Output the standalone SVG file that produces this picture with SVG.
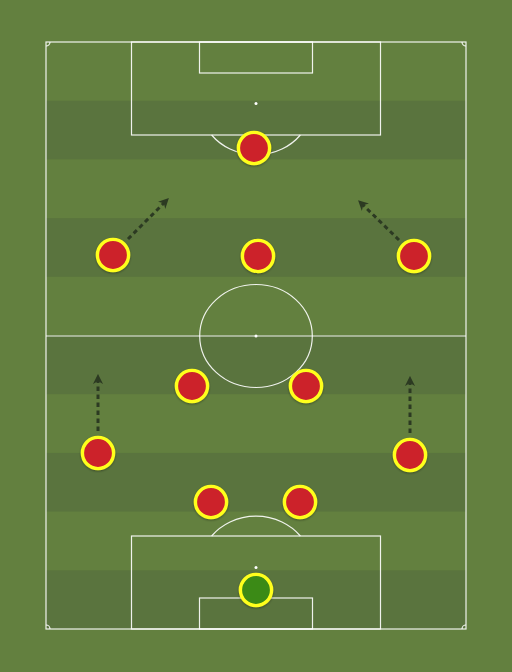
<svg xmlns="http://www.w3.org/2000/svg" width="512" height="672" viewBox="0 0 512 672">
<style>
.line{fill:none;stroke:#ffffff;stroke-width:1.2;stroke-opacity:0.9}
.band{fill:#5a743e}
.player{fill:#cc232b;stroke:#ffff1e;stroke-width:3.4;filter:url(#sh)}
.gk{fill:#3b8a17;stroke:#ffff1e;stroke-width:3.4;filter:url(#sh)}
.run{fill:none;stroke:#2c3a22;stroke-width:3;stroke-dasharray:4.5 3.5;marker-end:url(#ah)}
</style>
<defs>
<filter id="sh" x="-50%" y="-50%" width="200%" height="200%">
<feDropShadow dx="0" dy="1" stdDeviation="1.2" flood-color="#000" flood-opacity="0.35"/>
</filter>
<marker id="ah" viewBox="0 0 10 10" refX="6" refY="5" markerWidth="3.4" markerHeight="3.4" orient="auto" markerUnits="strokeWidth">
<path d="M0,0 L10,5 L0,10 L3,5 Z" fill="#2c3a22"/>
</marker>
</defs>
<rect width="512" height="672" fill="#63803f"/>
<g id="pitch">
<rect class="band" x="46" y="100.7" width="420" height="58.7"/>
<rect class="band" x="46" y="218.1" width="420" height="58.7"/>
<rect class="band" x="46" y="335.5" width="420" height="58.7"/>
<rect class="band" x="46" y="452.9" width="420" height="58.7"/>
<rect class="band" x="46" y="570.3" width="420" height="58.7"/>
<rect class="line" x="46" y="42" width="420" height="587"/>
<line class="line" x1="46" y1="336" x2="466" y2="336"/>
<ellipse class="line" cx="256" cy="336" rx="56.3" ry="51.5"/>
<circle cx="256" cy="336" r="1.5" fill="#fff"/>
<rect class="line" x="131.5" y="42" width="249" height="93"/>
<rect class="line" x="199.5" y="42" width="113" height="31"/>
<circle cx="256" cy="103.5" r="1.5" fill="#fff"/>
<path class="line" d="M211.6,135 A56.3,51.5 0 0 0 300.4,135"/>
<rect class="line" x="131.5" y="536" width="249" height="93"/>
<rect class="line" x="199.5" y="598" width="113" height="31"/>
<circle cx="256" cy="567.5" r="1.5" fill="#fff"/>
<path class="line" d="M211.6,536 A56.3,51.5 0 0 1 300.4,536"/>
<path class="line" d="M46,46 A4,4 0 0 0 50,42"/>
<path class="line" d="M462,42 A4,4 0 0 0 466,46"/>
<path class="line" d="M46,625 A4,4 0 0 1 50,629"/>
<path class="line" d="M462,629 A4,4 0 0 1 466,625"/>
</g>
<g id="connectors">
<line class="run" x1="128" y1="239" x2="166" y2="201"/>
<line class="run" x1="399" y1="240" x2="361" y2="203"/>
<line class="run" x1="98" y1="431" x2="98" y2="378"/>
<line class="run" x1="410" y1="433" x2="410" y2="380"/>
</g>
<g id="p1"><circle class="player" cx="254" cy="148" r="15.6"/></g>
<g id="p2"><circle class="player" cx="113" cy="255" r="15.6"/></g>
<g id="p3"><circle class="player" cx="258" cy="256" r="15.6"/></g>
<g id="p4"><circle class="player" cx="414" cy="256" r="15.6"/></g>
<g id="p5"><circle class="player" cx="192" cy="386" r="15.6"/></g>
<g id="p6"><circle class="player" cx="306" cy="386" r="15.6"/></g>
<g id="p7"><circle class="player" cx="98" cy="453" r="15.6"/></g>
<g id="p8"><circle class="player" cx="410" cy="455" r="15.6"/></g>
<g id="p9"><circle class="player" cx="211" cy="502" r="15.6"/></g>
<g id="p10"><circle class="player" cx="300" cy="502" r="15.6"/></g>
<g id="gk"><circle class="gk" cx="256" cy="590" r="15.6"/></g>
</svg>
